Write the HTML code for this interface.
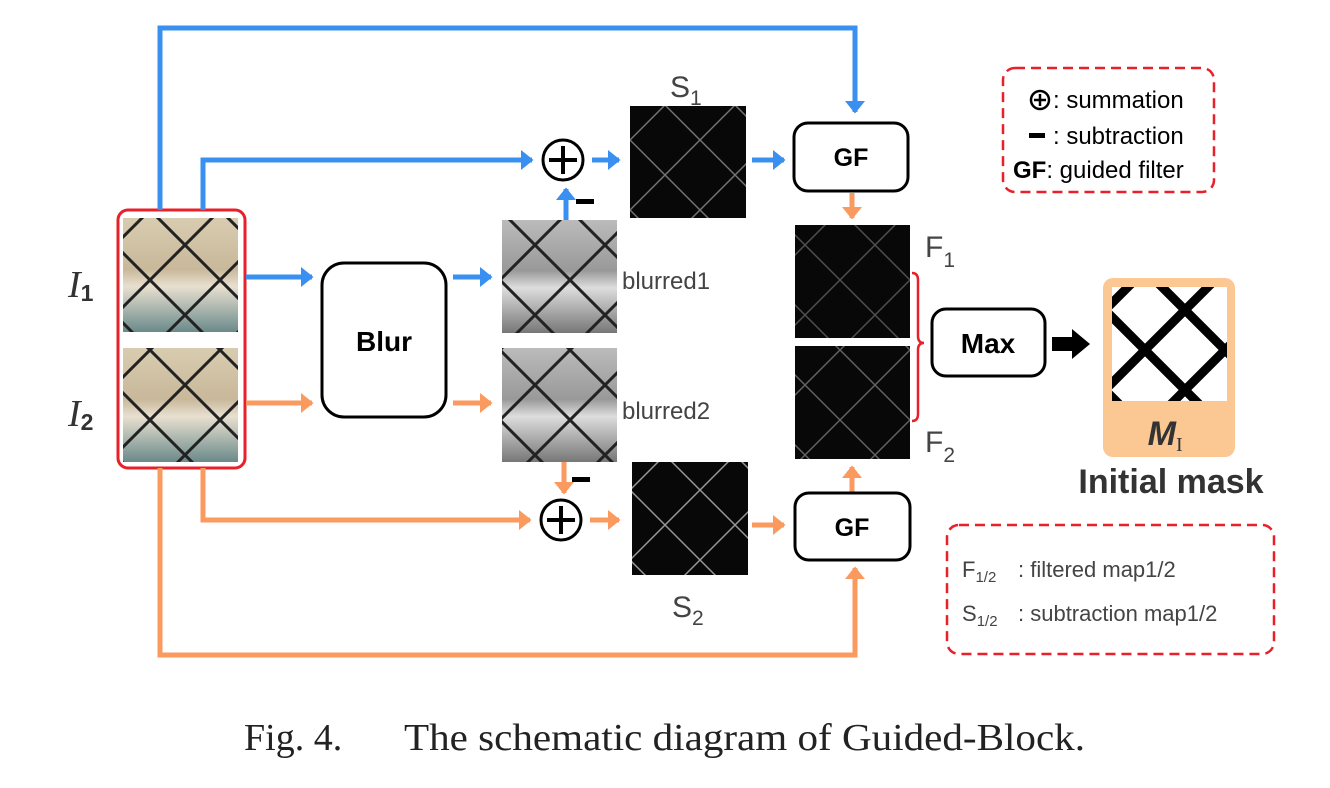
<!DOCTYPE html>
<html><head><meta charset="utf-8"><style>
html,body{margin:0;padding:0;background:#fff;}
svg{display:block;font-family:"Liberation Sans",sans-serif;}
.serif{font-family:"Liberation Serif",serif;}
.sans{font-family:"Liberation Sans",sans-serif;}
</style></head><body>
<svg width="1330" height="788" viewBox="0 0 1330 788" xmlns="http://www.w3.org/2000/svg">
<defs>
<marker id="ab" markerWidth="4" markerHeight="4" refX="2.2" refY="2" orient="auto" markerUnits="strokeWidth"><path d="M0,0 L2.5,2 L0,4 Z" fill="#3a90f0"/></marker>
<marker id="ao" markerWidth="4" markerHeight="4" refX="2.2" refY="2" orient="auto" markerUnits="strokeWidth"><path d="M0,0 L2.5,2 L0,4 Z" fill="#fb9a5e"/></marker>
<pattern id="mesh" width="70" height="70" patternUnits="userSpaceOnUse" patternTransform="translate(10,0)">
<path d="M0,0 L70,70 M70,0 L0,70" stroke="#222" stroke-width="3" fill="none"/></pattern>
<pattern id="meshL" width="70" height="70" patternUnits="userSpaceOnUse">
<path d="M0,0 L70,70 M70,0 L0,70" stroke="#bbb" stroke-width="1.5" fill="none"/></pattern>
<pattern id="meshM" width="80" height="80" patternUnits="userSpaceOnUse" patternTransform="translate(-15,-10)">
<path d="M0,0 L80,80 M80,0 L0,80" stroke="#000" stroke-width="9" fill="none"/></pattern>
<linearGradient id="court" x1="0" y1="0" x2="0" y2="1">
<stop offset="0" stop-color="#d8ccb0"/><stop offset="0.45" stop-color="#c9b89a"/><stop offset="0.6" stop-color="#e8e0d0"/><stop offset="1" stop-color="#6a8a8a"/></linearGradient>
<linearGradient id="gray" x1="0" y1="0" x2="0" y2="1">
<stop offset="0" stop-color="#bbb"/><stop offset="0.45" stop-color="#999"/><stop offset="0.6" stop-color="#ddd"/><stop offset="1" stop-color="#777"/></linearGradient>
</defs>

<rect x="118" y="210" width="127" height="258" rx="10" fill="#fff" stroke="#e8202a" stroke-width="3"/>
<rect x="123" y="218" width="115" height="114" fill="url(#court)"/><rect x="123" y="218" width="115" height="114" fill="url(#mesh)"/>
<rect x="123" y="348" width="115" height="114" fill="url(#court)"/><rect x="123" y="348" width="115" height="114" fill="url(#mesh)"/>

<rect x="502" y="220" width="115" height="113" fill="url(#gray)"/><rect x="502" y="220" width="115" height="113" fill="url(#mesh)"/>
<rect x="502" y="348" width="115" height="114" fill="url(#gray)"/><rect x="502" y="348" width="115" height="114" fill="url(#mesh)"/>
<rect x="630" y="106" width="116" height="112" fill="#080808"/><rect x="630" y="106" width="116" height="112" fill="url(#meshL)" opacity="0.6"/>
<rect x="632" y="462" width="116" height="113" fill="#080808"/><rect x="632" y="462" width="116" height="113" fill="url(#meshL)" opacity="0.8"/>
<rect x="795" y="225" width="115" height="113" fill="#080808"/><rect x="795" y="225" width="115" height="113" fill="url(#meshL)" opacity="0.4"/>
<rect x="795" y="346" width="115" height="113" fill="#080808"/><rect x="795" y="346" width="115" height="113" fill="url(#meshL)" opacity="0.5"/>

<g stroke="#3a90f0" stroke-width="5" fill="none">
<path d="M160,210 V28 H855 V112" marker-end="url(#ab)"/>
<path d="M203,210 V160 H532" marker-end="url(#ab)"/>
<path d="M246,277 H312" marker-end="url(#ab)"/>
<path d="M453,277 H491" marker-end="url(#ab)"/>
<path d="M566,220 V189" marker-end="url(#ab)"/>
<path d="M592,160 H619" marker-end="url(#ab)"/>
<path d="M752,160 H784" marker-end="url(#ab)"/>
</g>
<g stroke="#fb9a5e" stroke-width="5" fill="none">
<path d="M246,403 H312" marker-end="url(#ao)"/>
<path d="M453,403 H491" marker-end="url(#ao)"/>
<path d="M564,462 V493" marker-end="url(#ao)"/>
<path d="M203,468 V520 H530" marker-end="url(#ao)"/>
<path d="M590,520 H619" marker-end="url(#ao)"/>
<path d="M752,525 H784" marker-end="url(#ao)"/>
<path d="M852,193 V218" marker-end="url(#ao)"/>
<path d="M852,493 V467" marker-end="url(#ao)"/>
<path d="M160,468 V655 H855 V568" marker-end="url(#ao)"/>
</g>

<g stroke="#000" stroke-width="3" fill="#fff">
<circle cx="563" cy="160" r="20"/><circle cx="561" cy="520" r="20"/></g>
<g stroke="#000" stroke-width="4">
<path d="M549,160 H577 M563,146 V174"/><path d="M547,520 H575 M561,506 V534"/></g>
<rect x="576" y="199" width="18" height="5" fill="#000"/>
<rect x="572" y="477" width="18" height="5" fill="#000"/>

<g fill="#fff" stroke="#000" stroke-width="3">
<rect x="322" y="263" width="124" height="154" rx="22"/>
<rect x="794" y="123" width="114" height="68" rx="14"/>
<rect x="795" y="493" width="115" height="67" rx="14"/>
<rect x="932" y="309" width="113" height="67" rx="14"/>
</g>
<g font-weight="bold" fill="#000" text-anchor="middle">
<text x="384" y="351" font-size="28">Blur</text>
<text x="851" y="166" font-size="25">GF</text>
<text x="852" y="536" font-size="25">GF</text>
<text x="988" y="353" font-size="28">Max</text>
</g>

<path d="M912,273 Q918,273 918,280 V336 Q918,343 924,343 Q918,343 918,350 V414 Q918,421 912,421" stroke="#e8202a" stroke-width="2.5" fill="none"/>

<path d="M1052,337 H1072 V329 L1090,344 L1072,359 V351 H1052 Z" fill="#000"/>

<rect x="1103" y="278" width="132" height="179" rx="10" fill="#fbc793"/>
<rect x="1112" y="287" width="115" height="114" fill="#fff"/>
<rect x="1112" y="287" width="115" height="114" fill="url(#meshM)"/>
<text x="1176" y="445" font-size="34" font-weight="bold" font-style="italic" fill="#333" text-anchor="end">M</text>
<text x="1176" y="451" font-size="20" class="serif" fill="#333">I</text>
<text x="1171" y="493" font-size="34" font-weight="bold" fill="#333" text-anchor="middle">Initial mask</text>

<g fill="#444" font-size="30">
<text x="670" y="97">S<tspan font-size="21" dy="8">1</tspan></text>
<text x="672" y="617">S<tspan font-size="21" dy="8">2</tspan></text>
<text x="925" y="257">F<tspan font-size="21" dy="10">1</tspan></text>
<text x="925" y="452">F<tspan font-size="21" dy="10">2</tspan></text>
</g>
<g fill="#444" font-size="24">
<text x="622" y="289">blurred1</text>
<text x="622" y="419">blurred2</text>
</g>
<g fill="#333" font-size="38" font-style="italic" class="serif">
<text x="68" y="297">I<tspan class="sans" font-style="normal" font-weight="bold" font-size="23" dy="4">1</tspan></text>
<text x="68" y="426">I<tspan class="sans" font-style="normal" font-weight="bold" font-size="23" dy="4">2</tspan></text>
</g>

<rect x="1003" y="68" width="211" height="124" rx="12" fill="none" stroke="#e8202a" stroke-width="2.5" stroke-dasharray="10,6"/>
<circle cx="1040" cy="100" r="9" fill="none" stroke="#000" stroke-width="2.5"/>
<path d="M1034,100 H1046 M1040,94 V106" stroke="#000" stroke-width="2.5"/>
<rect x="1029" y="133" width="16" height="5" fill="#000"/>
<g font-size="24" fill="#000">
<text x="1053" y="108">: summation</text>
<text x="1053" y="144">: subtraction</text>
<text x="1013" y="178"><tspan font-weight="bold">GF</tspan>: guided filter</text>
</g>

<rect x="947" y="525" width="327" height="129" rx="12" fill="none" stroke="#e8202a" stroke-width="2.5" stroke-dasharray="10,6"/>
<g font-size="22" fill="#444">
<text x="962" y="577">F<tspan font-size="15" dy="5">1/2</tspan></text>
<text x="1018" y="577">: filtered map1/2</text>
<text x="962" y="621">S<tspan font-size="15" dy="5">1/2</tspan></text>
<text x="1018" y="621">: subtraction map1/2</text>
</g>

<text x="244" y="750" class="serif" font-size="38" fill="#222">Fig. 4.</text>
<text x="404" y="750" class="serif" font-size="38" fill="#222" textLength="681" lengthAdjust="spacingAndGlyphs">The schematic diagram of Guided-Block.</text>
</svg>
</body></html>
